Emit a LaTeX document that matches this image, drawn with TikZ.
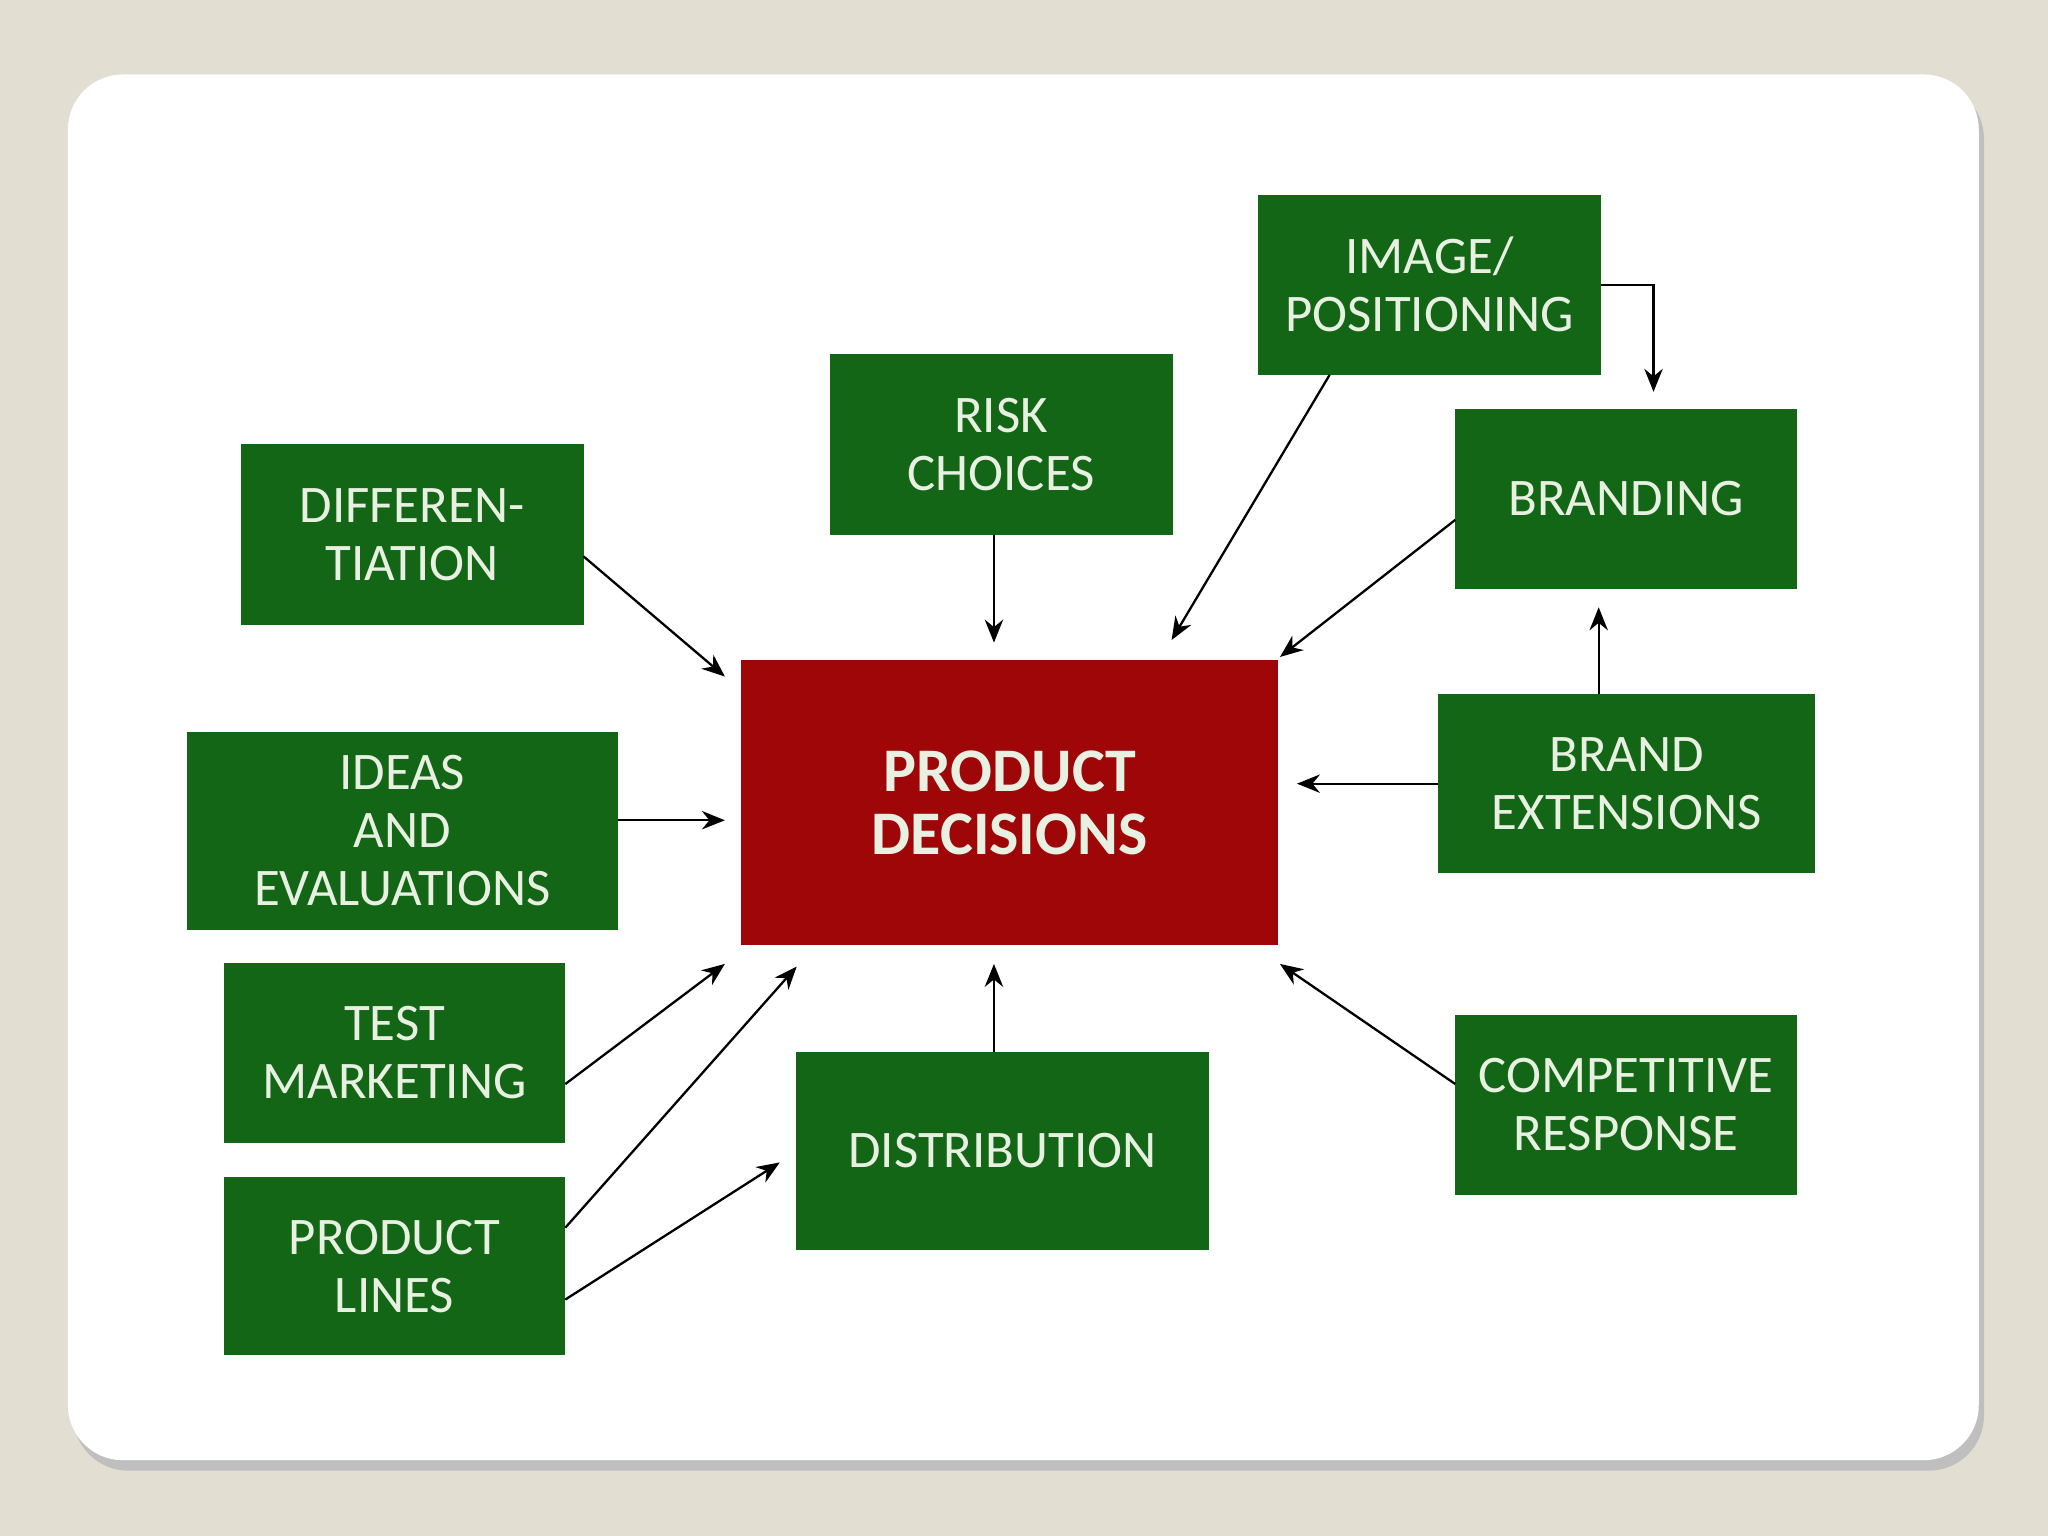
\documentclass[tikz,border=0pt]{standalone}
\usepackage{fontspec}
\setmainfont{Carlito}
\usetikzlibrary{arrows.meta,shadows}
\definecolor{bgc}{RGB}{226,223,210}
\definecolor{gbox}{RGB}{18,102,22}
\definecolor{rbox}{RGB}{158,6,8}
\definecolor{tcol}{RGB}{232,240,225}
\begin{document}
\begin{tikzpicture}[x=0.01cm,y=-0.01cm,
 box/.style={draw=gbox,fill=gbox,text=tcol,align=center,inner sep=0pt,font=\fontsize{11.5}{12.6}\selectfont},
 arr/.style={-{Stealth[length=5pt,width=4pt]},line width=0.5pt,black}]
\fill[bgc] (0,0) rectangle (1568,1176);
\fill[black!25] (56,64) [rounded corners=12pt] rectangle (1519,1126);
\fill[white,rounded corners=12pt] (52,57) rectangle (1515,1118);
\useasboundingbox (0,0) rectangle (1568,1176);
\node[box,minimum width=2.61cm,minimum height=1.37cm] (diff) at (315.5,409.5) {DIFFEREN-\\TIATION};
\node[box,minimum width=2.61cm,minimum height=1.37cm] (risk) at (766.5,340.5) {RISK\\CHOICES};
\node[box,minimum width=2.61cm,minimum height=1.36cm] (image) at (1094.5,218) {IMAGE/\\POSITIONING};
\node[box,minimum width=2.60cm,minimum height=1.36cm] (brand) at (1245,382) {BRANDING};
\node[box,minimum width=3.28cm,minimum height=1.50cm] (ideas) at (308,636) {IDEAS\\AND\\EVALUATIONS};
\node[box,minimum width=2.87cm,minimum height=1.36cm] (ext) at (1245.5,600) {BRAND\\EXTENSIONS};
\node[box,minimum width=2.60cm,minimum height=1.36cm] (test) at (302,806) {TEST\\MARKETING};
\node[box,minimum width=3.15cm,minimum height=1.50cm] (dist) at (767.5,881) {DISTRIBUTION};
\node[box,minimum width=2.60cm,minimum height=1.36cm] (comp) at (1245,846) {COMPETITIVE\\RESPONSE};
\node[box,minimum width=2.60cm,minimum height=1.35cm] (lines) at (302,969.5) {PRODUCT\\LINES};
\node[box,draw=rbox,fill=rbox,minimum width=4.10cm,minimum height=2.17cm,font=\bfseries\fontsize{13.5}{13.8}\selectfont] (pd) at (773,614.5) {PRODUCT\\DECISIONS};
\coordinate (e1) at (555,518);
\coordinate (e2) at (761,492);
\coordinate (e3) at (897,490);
\coordinate (e4) at (980,503);
\coordinate (e5) at (1266,300);
\coordinate (e6) at (1224,465);
\coordinate (e7) at (993,600);
\coordinate (e8) at (555,628);
\coordinate (e9) at (555,738);
\coordinate (e10) at (610,740);
\coordinate (e11) at (597,890);
\coordinate (e12) at (761,738);
\coordinate (e13) at (980,738);
\draw[arr] (diff.east|-0,426) -- (e1);
\draw[arr] (risk.south-|761,0) -- (e2);
\draw[arr] (1018,287) -- (e3);
\draw[arr] (brand.west|-0,398) -- (e4);
\draw[arr] (image.east) -| (e5);
\draw[arr] (ext.north-|1224,0) -- (e6);
\draw[arr] (ext.west) -- (e7);
\draw[arr] (ideas.east|-0,628) -- (e8);
\draw[arr] (test.east|-0,830) -- (e9);
\draw[arr] (lines.east|-0,940) -- (e10);
\draw[arr] (lines.east|-0,995) -- (e11);
\draw[arr] (dist.north-|761,0) -- (e12);
\draw[arr] (comp.west|-0,830) -- (e13);
\end{tikzpicture}
\end{document}
